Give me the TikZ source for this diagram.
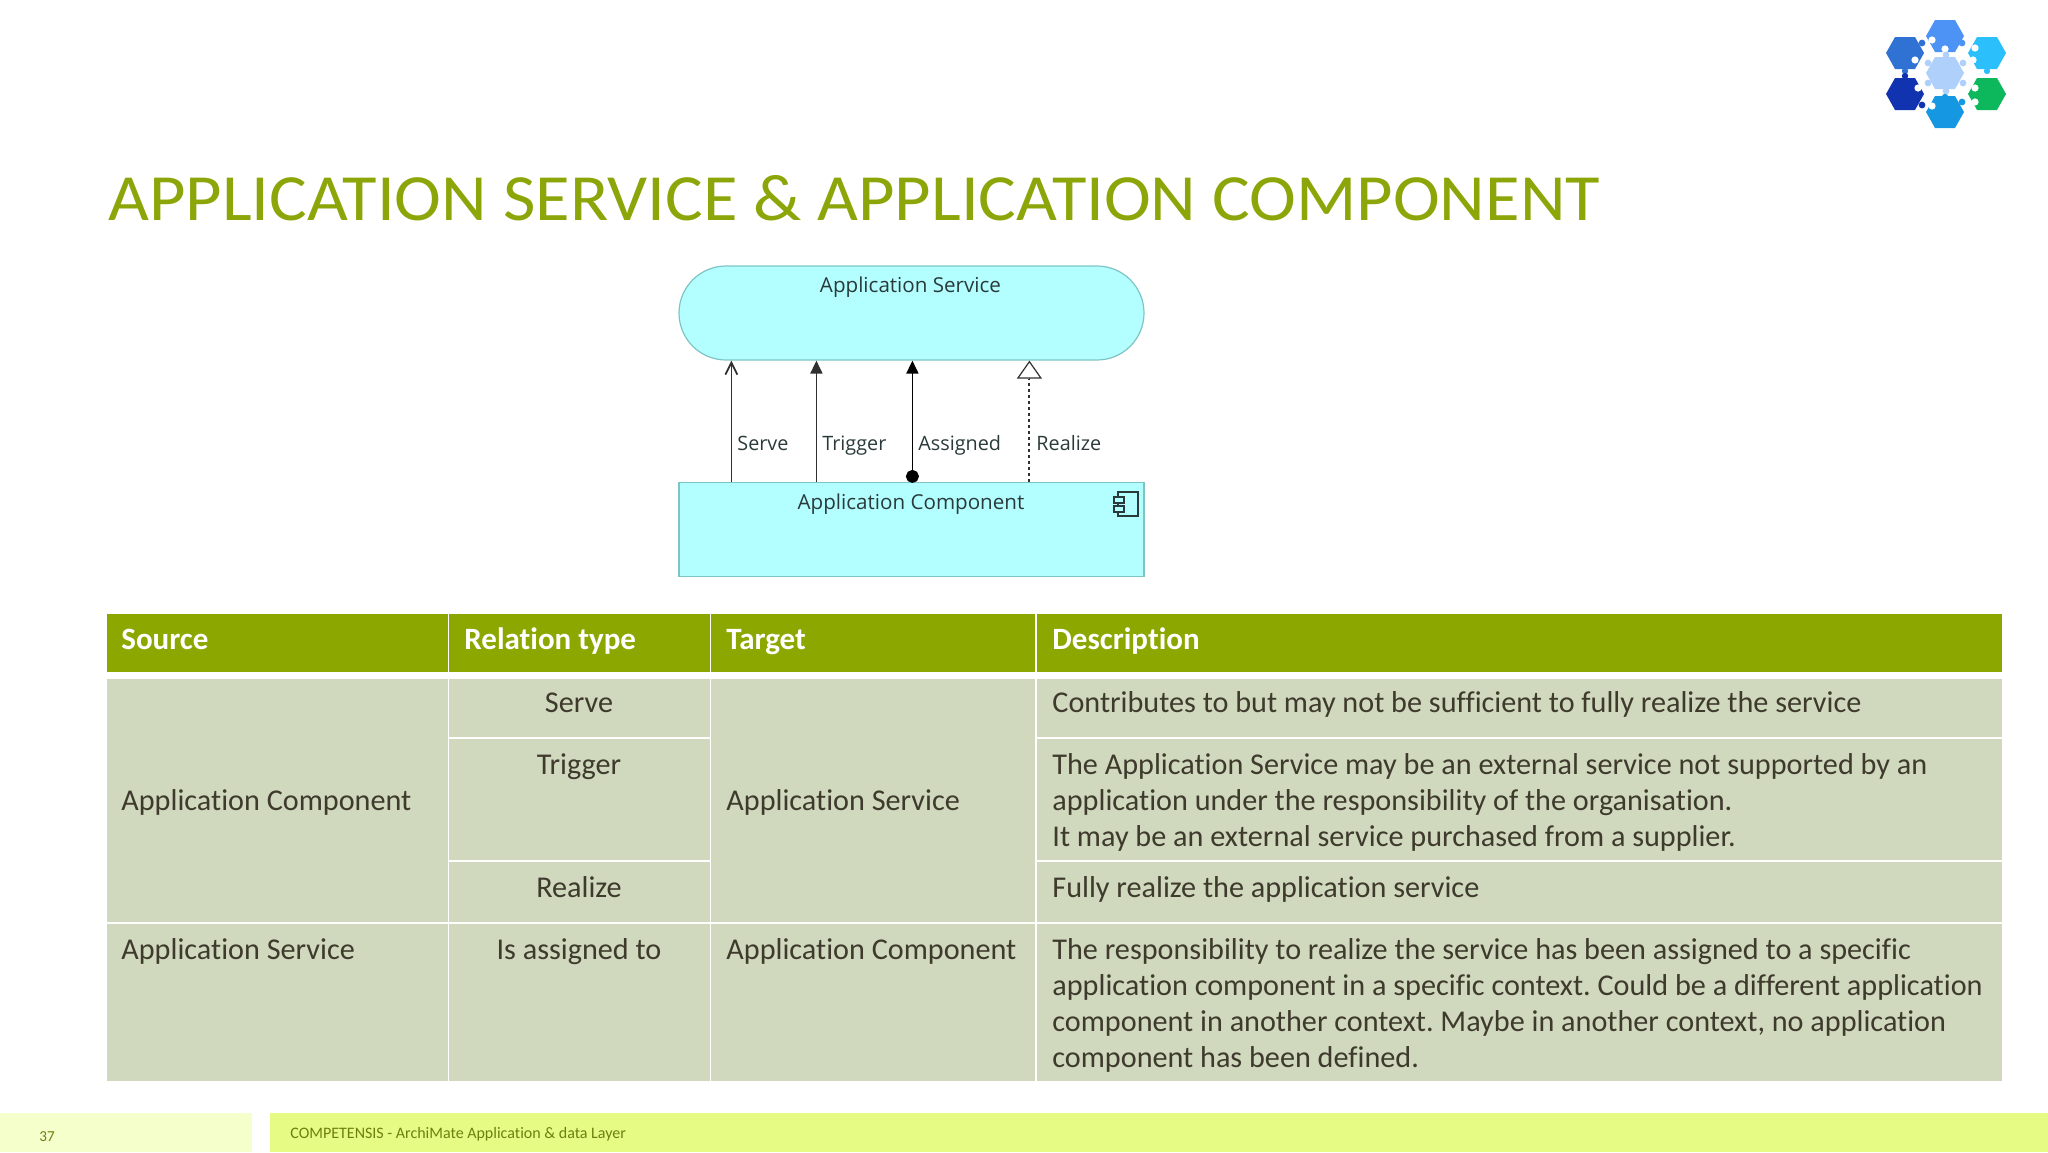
\documentclass[tikz,border=0pt]{standalone}
\usepackage{fontspec}
\setmainfont{Carlito}[Ligatures=NoCommon]
\newfontfamily\uifont{Open Sans}
\newfontfamily\ttlfont{Carlito}[FakeStretch=1.07]
\usetikzlibrary{arrows.meta,positioning}
\definecolor{hdr}{HTML}{8CA800}
\definecolor{bodyc}{HTML}{D0D8BE}
\definecolor{ink}{HTML}{3E3A2C}
\definecolor{ttl}{HTML}{8CA60A}
\definecolor{foota}{HTML}{F5FFCC}
\definecolor{footb}{HTML}{E6FB84}
\definecolor{foott}{HTML}{6E7F10}
\definecolor{aqua}{HTML}{B3FFFF}
\definecolor{aquab}{HTML}{7FC4C4}
\definecolor{uiink}{HTML}{2A3A3A}
\definecolor{lineg}{HTML}{303030}
\tikzset{
  x=0.5pt,y=-0.5pt,
  cellb/.style={fill=bodyc},
  cellh/.style={fill=hdr},
  thead/.style={anchor=base west,inner sep=0pt,text=white,font=\fontsize{15.5}{18}\selectfont\bfseries},
  tbody/.style={anchor=base west,inner sep=0pt,text=ink,font=\fontsize{15.1}{18}\selectfont},
  tcent/.style={anchor=base,inner sep=0pt,text=ink,font=\fontsize{15.1}{18}\selectfont},
  elem/.style={draw=aquab,fill=aqua,line width=0.6pt,minimum width=232.5pt,minimum height=47pt,inner sep=0pt},
  ui/.style={anchor=base,inner sep=0pt,text=uiink,font=\uifont\fontsize{10.3}{12}\selectfont},
  rel/.style={anchor=base west,inner sep=0pt,text=uiink,font=\uifont\fontsize{9.9}{12}\selectfont},
  conn/.style={draw=lineg,line width=0.9pt},
}
\newcommand{\tcell}[5]{\fill[#1] (#2,#3) rectangle (#4,#5);}
\newcommand{\hexa}[3]{\fill[#3] (#1+19,#2) -- (#1+10,#2-16) -- (#1-10,#2-16) -- (#1-19,#2) -- (#1-10,#2+16) -- (#1+10,#2+16) -- cycle;}
\begin{document}
\frenchspacing
\begin{tikzpicture}
\useasboundingbox (0,0) rectangle (2048,1152);
% logo
\definecolor{lg1}{HTML}{4C93F5}\definecolor{lg2}{HTML}{2F72D4}\definecolor{lg3}{HTML}{2BC0FB}
\definecolor{lg4}{HTML}{AFD0FB}\definecolor{lg5}{HTML}{1233B0}\definecolor{lg6}{HTML}{0DB85C}\definecolor{lg7}{HTML}{1597E2}
\hexa{1945}{36}{lg1}\hexa{1905}{53}{lg2}\hexa{1987}{53}{lg3}\hexa{1945}{73}{lg4}
\hexa{1905}{94}{lg5}\hexa{1987}{94}{lg6}\hexa{1945}{112}{lg7}
\fill[white] (1932,40) circle (3.6) (1945,49) circle (3.6) (1915,60) circle (3.6) (1975,48) circle (3.6) (1973,60) circle (3.6)
  (1918,88) circle (3.6) (1975,88) circle (3.6) (1975,102) circle (3.6) (1932,106) circle (3.6);
\fill[lg4] (1946,55) circle (3.4) (1946,91) circle (3.4) (1928,63) circle (3.4) (1963,63) circle (3.4) (1928,83) circle (3.4) (1963,83) circle (3.4);
\fill[lg1] (1962,43) circle (3.4);
\fill[lg2] (1905,71) circle (3.2) (1922,43) circle (3.4);
\fill[lg3] (1987,71) circle (3.2);
\fill[lg5] (1905,76) circle (3.2) (1922,105) circle (3.4);
\fill[lg7] (1945,97) circle (3.2) (1962,102) circle (3.4);
% title
\node[anchor=base west,inner sep=0pt,text=ttl,font=\ttlfont\fontsize{33}{36}\selectfont] (title) at (108,220) {APPLICATION SERVICE \& APPLICATION COMPONENT};
% diagram
\node[elem,rounded corners=23.5pt] (svc) at (911.5,313) {};
\node[elem] (comp) at (911.5,529.5) {};
\node[ui] (svct) at (910.5,292.5) {Application Service};
\node[ui] (compt) at (911,509) {Application Component};
\draw[conn,-{Straight Barb[length=6pt,width=6pt]}] ([xshift=26.5pt]comp.north west) -- ([xshift=26.5pt]svc.south west);
\draw[conn,-{Triangle[length=6.5pt,width=6pt]}] ([xshift=69pt]comp.north west) -- ([xshift=69pt]svc.south west);
\draw[conn,{Circle[length=6.5pt]}-{Triangle[length=6.5pt,width=6pt]},black] ([xshift=117pt,yshift=-0.5pt]comp.north west) -- ([xshift=117pt]svc.south west);
\draw[conn,line width=1pt,dash pattern=on 1.5pt off 1.5pt] ([xshift=175.5pt]comp.north west) -- ([xshift=175.5pt,yshift=-9pt]svc.south west);
\draw[conn,-{Triangle[open,length=9pt,width=12.5pt,fill=white]},line width=0.6pt] ([xshift=175.5pt,yshift=-9pt]svc.south west) -- ([xshift=175.5pt]svc.south west);
\node[rel] (l1) at (737,450) {Serve};
\node[rel] (l2) at (822,450) {Trigger};
\node[rel] (l3) at (918,450) {Assigned};
\node[rel] (l4) at (1036,450) {Realize};
% icon
\draw[draw=uiink,line width=0.6pt] (1118,492) rectangle (1138,516);
\draw[draw=uiink,fill=aqua,line width=0.6pt] (1114,497) rectangle (1124,503) (1114,506) rectangle (1124,512);
% table
\tcell{cellh}{107}{614}{447.6}{672}
\tcell{cellh}{449.4}{614}{709.6}{672}
\tcell{cellh}{711.4}{614}{1035.2}{672}
\tcell{cellh}{1037}{614}{2002}{672}
\node[thead] (h1) at (121,649.5) {Source};
\node[thead] (h2) at (464,649.5) {Relation type};
\node[thead] (h3) at (726,649.5) {Target};
\node[thead] (h4) at (1052,649.5) {Description};
\tcell{cellb}{107}{679}{447.6}{922}
\tcell{cellb}{449.4}{679}{709.6}{737.3}
\tcell{cellb}{449.4}{738.7}{709.6}{860}
\tcell{cellb}{449.4}{861.7}{709.6}{922}
\tcell{cellb}{711.4}{679}{1035.2}{922}
\tcell{cellb}{1037}{679}{2002}{737.3}
\tcell{cellb}{1037}{738.7}{2002}{860}
\tcell{cellb}{1037}{861.7}{2002}{922}
\tcell{cellb}{107}{924}{447.6}{1081}
\tcell{cellb}{449.4}{924}{709.6}{1081}
\tcell{cellb}{711.4}{924}{1035.2}{1081}
\tcell{cellb}{1037}{924}{2002}{1081}
\node[tbody] (c1) at (121,810) {Application Component};
\node[tcent] (c2) at (579,712) {Serve};
\node[tcent] (c3) at (579,774) {Trigger};
\node[tcent] (c4) at (579,897) {Realize};
\node[tbody] (c5) at (726,810) {Application Service};
\node[tbody] (d1) at (1052,712) {Contributes to but may not be sufficient to fully realize the service};
\node[tbody] (d2a) at (1052,774) {The Application Service may be an external service not supported by an};
\node[tbody] (d2b) at (1052,810) {application under the responsibility of the organisation.};
\node[tbody] (d2c) at (1052,846) {It may be an external service purchased from a supplier.};
\node[tbody] (d3) at (1052,897) {Fully realize the application service};
\node[tbody] (e1) at (121,959) {Application Service};
\node[tcent] (e2) at (579,959) {Is assigned to};
\node[tbody] (e3) at (726,959) {Application Component};
\node[tbody] (e4a) at (1052,959) {The responsibility to realize the service has been assigned to a specific};
\node[tbody] (e4b) at (1052,995) {application component in a specific context. Could be a different application};
\node[tbody] (e4c) at (1052,1031) {component in another context. Maybe in another context, no application};
\node[tbody] (e4d) at (1052,1067) {component has been defined.};
% footer
\fill[foota] (0,1113) rectangle (252,1152);
\fill[footb] (270,1113) rectangle (2048,1152);
\node[anchor=base west,inner sep=0pt,text=foott,font=\fontsize{7.6}{10}\selectfont] (pg) at (39,1141) {37};
\node[anchor=base west,inner sep=0pt,text=foott,font=\fontsize{8}{10}\selectfont] (ft) at (290,1138) {COMPETENSIS - ArchiMate Application \& data Layer};
\end{tikzpicture}
\end{document}
